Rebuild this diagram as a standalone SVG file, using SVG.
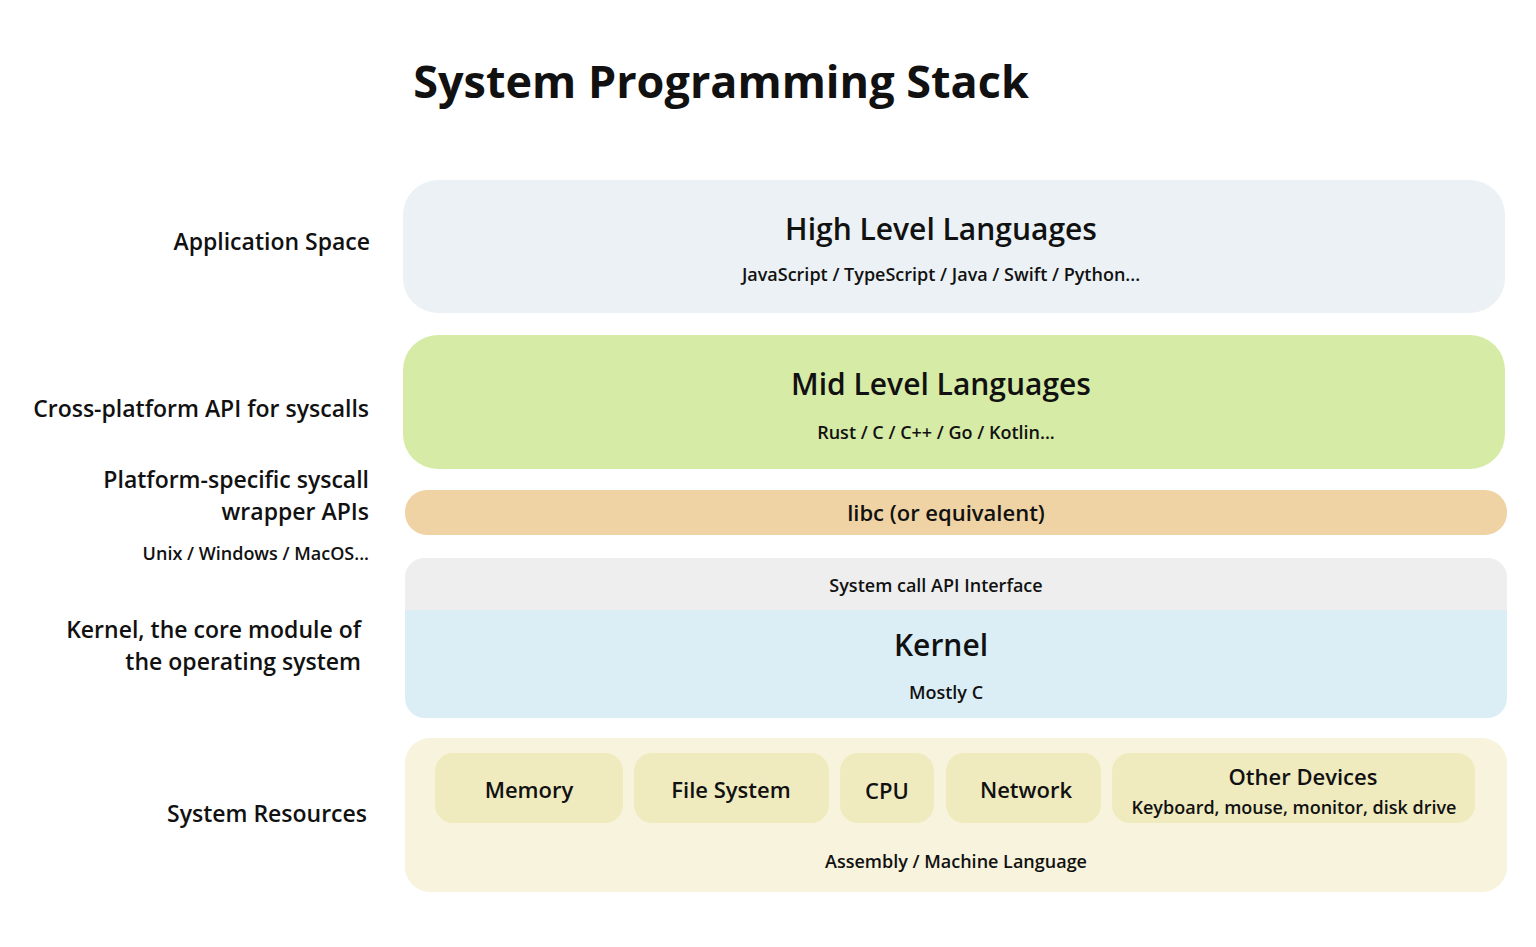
<svg xmlns="http://www.w3.org/2000/svg" width="1536" height="947" viewBox="0 0 1536 947">
<style>
text{font-family:"Open Sans","Noto Sans",sans-serif;font-weight:600;fill:#111}
.c{text-anchor:middle}
.r{text-anchor:end}
.big{font-size:30px}
.sub{font-size:18px}
.lab{font-size:23px}
.res{font-size:22px}
.inner{fill:#efebbf}
</style>
<rect width="1536" height="947" fill="#fff"/>
<text x="721" y="98" class="c" style="font-size:45px;font-weight:700">System Programming Stack</text>
<g id="labels">
<text x="370" y="250" class="r lab">Application Space</text>
<text x="369" y="417" class="r lab">Cross-platform API for syscalls</text>
<text x="369" y="488" class="r lab">Platform-specific syscall</text>
<text x="369" y="520" class="r lab">wrapper APIs</text>
<text x="369" y="560" class="r sub">Unix / Windows / MacOS...</text>
<text x="361" y="638" class="r lab">Kernel, the core module of</text>
<text x="361" y="670" class="r lab">the operating system</text>
<text x="367" y="822" class="r lab">System Resources</text>
</g>
<g id="high">
<rect x="403" y="180" width="1102" height="133" rx="35" fill="#ebf1f4"/>
<text x="941" y="240" class="c big">High Level Languages</text>
<text x="941" y="281" class="c sub">JavaScript / TypeScript / Java / Swift / Python...</text>
</g>
<g id="mid">
<rect x="403" y="335" width="1102" height="134" rx="35" fill="#d6eba5"/>
<text x="941" y="395" class="c big">Mid Level Languages</text>
<text x="936" y="439" class="c sub">Rust / C / C++ / Go / Kotlin...</text>
</g>
<g id="libc">
<rect x="405" y="490" width="1102" height="45" rx="22" fill="#efd3a4"/>
<text x="946" y="521" class="c res">libc (or equivalent)</text>
</g>
<g id="kernel">
<rect x="405" y="558" width="1102" height="160" rx="20" fill="#dbeef6"/>
<path d="M405 610 V578 A20 20 0 0 1 425 558 H1487 A20 20 0 0 1 1507 578 V610 Z" fill="#eeeeee"/>
<text x="936" y="592" class="c sub">System call API Interface</text>
<text x="941" y="656" class="c big">Kernel</text>
<text x="946" y="699" class="c sub">Mostly C</text>
</g>
<g id="resources">
<rect x="405" y="738" width="1102" height="154" rx="25" fill="#f8f3dc"/>
<rect class="inner" x="435" y="753" width="188" height="70" rx="18"/>
<text x="529" y="798" class="c res">Memory</text>
<rect class="inner" x="634" y="753" width="195" height="70" rx="18"/>
<text x="731" y="798" class="c res">File System</text>
<rect class="inner" x="840" y="753" width="94" height="70" rx="18"/>
<text x="887" y="799" class="c res">CPU</text>
<rect class="inner" x="946" y="753" width="155" height="70" rx="18"/>
<text x="1026" y="798" class="c res">Network</text>
<rect class="inner" x="1112" y="753" width="363" height="70" rx="18"/>
<text x="1303" y="785" class="c res">Other Devices</text>
<text x="1294" y="814" class="c sub">Keyboard, mouse, monitor, disk drive</text>
<text x="956" y="868" class="c sub">Assembly / Machine Language</text>
</g>
<g id="connectors"/>
</svg>
